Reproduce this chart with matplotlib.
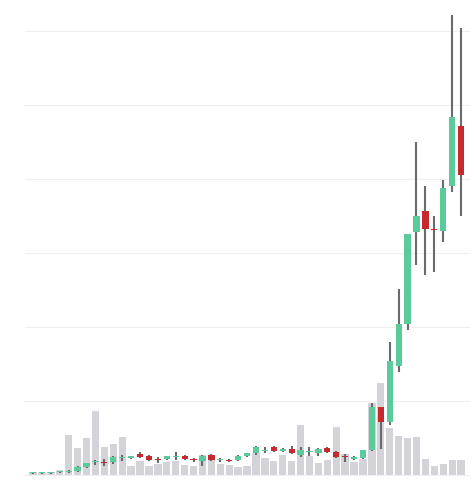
import matplotlib
matplotlib.use("Agg")
import matplotlib.pyplot as plt

# candle data (open, high, low, close) and volume
opens  = [2, 2, 2, 3, 3, 4, 8, 13, 13, 13, 17, 17, 21, 19, 16, 16, 18, 19, 16, 14,
          20, 15, 15, 15, 19, 22, 24, 28, 24, 26, 20, 23, 22, 27, 23, 19, 16, 17, 25, 68,
          53, 109, 151, 243, 264, 246, 244, 289, 349]
highs  = [3, 3, 3, 4, 5, 9, 12, 15, 16, 19, 20, 19, 23, 20, 18, 19, 23, 20, 17, 20,
          21, 17, 16, 20, 22, 29, 28, 29, 27, 29, 28, 28, 27, 28, 24, 21, 19, 25, 72, 68,
          133, 186, 241, 333, 289, 259, 295, 460, 447]
lows   = [1, 1, 1, 2, 2, 3, 7, 10, 9, 11, 14, 16, 17, 14, 12, 15, 15, 15, 13, 9,
          14, 13, 13, 14, 18, 20, 22, 23, 23, 21, 18, 19, 19, 22, 17, 13, 15, 16, 24, 26,
          50, 103, 145, 210, 200, 203, 233, 283, 259]
closes = [2, 2, 2, 3, 4, 8, 12, 14, 12, 18, 18, 19, 18, 15, 15, 19, 18, 16, 15, 19,
          15, 16, 14, 19, 22, 28, 24, 24, 26, 22, 25, 23, 26, 23, 18, 18, 18, 25, 68, 53,
          114, 151, 241, 259, 246, 245, 287, 358, 300]
volume = [3, 2, 3, 5, 40, 27, 37, 64, 28, 31, 38, 9, 14, 9, 11, 13, 14, 10, 9, 20,
          15, 11, 10, 8, 9, 22, 17, 14, 20, 14, 50, 19, 12, 15, 48, 21, 13, 16, 72, 92,
          47, 39, 37, 38, 16, 9, 11, 15, 15]

UP = "#5ccb9b"
DOWN = "#c62a2f"
WICK = "#6b6b6b"
VOL = "#d4d3d9"

fig = plt.figure(figsize=(4.74, 4.99), dpi=100)
ax = fig.add_axes([25 / 474, 21 / 499, 445 / 474, 468 / 499])

x = list(range(len(opens)))
ax.bar(x, volume, width=0.82, color=VOL, zorder=1)

for i in x:
    o, h, l, c = opens[i], highs[i], lows[i], closes[i]
    col = UP if c >= o else DOWN
    ax.vlines(i, l, h, color=WICK, linewidth=1.5, zorder=2)
    body = max(abs(c - o), 1.2)
    ax.bar(i, body, bottom=min(o, c), width=0.7, color=col, zorder=3)

ax.set_xlim(-0.9, 49.0)
ax.set_ylim(-3, 465)
ax.set_yticks([74 * k for k in range(7)])
ax.grid(axis="y", color="#efefef", linewidth=0.8, zorder=0)
ax.set_axisbelow(True)
ax.tick_params(left=False, bottom=False, labelleft=False, labelbottom=False)
for s in ax.spines.values():
    s.set_visible(False)

fig.savefig("out.png", dpi=100)
